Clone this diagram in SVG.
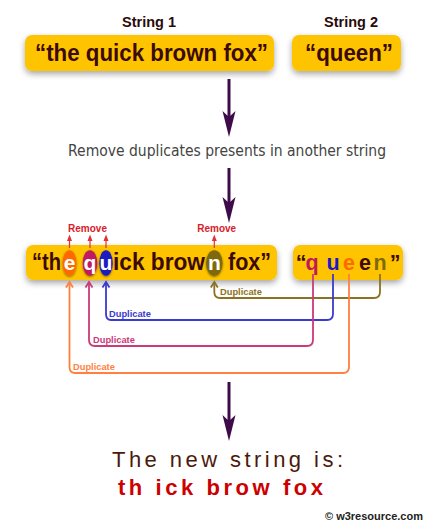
<svg xmlns="http://www.w3.org/2000/svg" width="426" height="528" viewBox="0 0 426 528">
<defs>
<filter id="sh" x="-10%" y="-30%" width="120%" height="180%">
<feDropShadow dx="0" dy="3" stdDeviation="3" flood-color="#000" flood-opacity="0.35"/>
</filter>
<filter id="sh2" x="-40%" y="-30%" width="180%" height="160%">
<feDropShadow dx="0" dy="1" stdDeviation="1.2" flood-color="#000" flood-opacity="0.5"/>
</filter>
</defs>
<style>
.box{fill:#FFC400;}
.big{font-family:"Liberation Sans",Arial,sans-serif;font-weight:bold;font-size:23px;fill:#3B0A00;}
.q{font-family:"Liberation Sans",Arial,sans-serif;font-weight:bold;font-size:21.5px;fill:#3B0A00;text-anchor:middle;}
.hl{font-family:"Liberation Sans",Arial,sans-serif;font-weight:bold;font-size:21px;fill:#fff;text-anchor:middle;}
.lbl{font-family:"Liberation Sans",Arial,sans-serif;font-weight:bold;font-size:14.5px;fill:#2A0A0A;text-anchor:middle;}
.rm{font-family:"Liberation Sans",Arial,sans-serif;font-weight:bold;font-size:10px;fill:#D8202A;text-anchor:middle;}
.dup{font-family:"Liberation Sans",Arial,sans-serif;font-weight:bold;font-size:9.3px;}
.main{stroke:#3D0B4A;stroke-width:3;fill:none;}
.head{fill:#3D0B4A;}
.red{stroke:#E0303A;stroke-width:1.2;fill:none;}
.redh{fill:#E0303A;}
.c{fill:none;stroke-width:1.8;}
.ol{stroke:#8A7222;}
.bl{stroke:#3A3AD0;}
.mg{stroke:#CC3A7A;}
.or{stroke:#FF8040;}
</style>

<g id="string1-label"><text class="lbl" x="149" y="27">String 1</text></g>
<g id="string2-label"><text class="lbl" x="351" y="27">String 2</text></g>

<g id="string1">
<rect class="box" x="25" y="35" width="249" height="36" rx="7" filter="url(#sh)"/>
<text class="big" x="35" y="61" textLength="233" lengthAdjust="spacingAndGlyphs">“the quick brown fox”</text>
</g>
<g id="string2">
<rect class="box" x="292" y="35" width="109" height="36" rx="7" filter="url(#sh)"/>
<text class="big" x="305" y="61" textLength="88" lengthAdjust="spacingAndGlyphs">“queen”</text>
</g>

<g id="step">
<text x="68" y="156" font-family="DejaVu Sans,Verdana,sans-serif" font-size="15.5" fill="#444" textLength="318" lengthAdjust="spacingAndGlyphs">Remove duplicates presents in another string</text>
</g>

<g id="string1-marked">
<rect class="box" x="26" y="245" width="251" height="35" rx="7" filter="url(#sh)"/>
<text class="big" x="32" y="270" textLength="29" lengthAdjust="spacingAndGlyphs">“th</text>
<ellipse cx="69.5" cy="263" rx="7" ry="12.7" fill="#FF6A00" filter="url(#sh2)"/>
<text class="hl" x="69.5" y="270">e</text>
<ellipse cx="90" cy="263" rx="7.3" ry="12.7" fill="#BE1A5E" filter="url(#sh2)"/>
<text class="hl" x="90" y="270">q</text>
<ellipse cx="106" cy="263" rx="6.7" ry="12.7" fill="#1A1AC0" filter="url(#sh2)"/>
<text class="hl" x="106" y="270">u</text>
<text class="big" x="113" y="270" textLength="92" lengthAdjust="spacingAndGlyphs">ick brow</text>
<ellipse cx="214.3" cy="263" rx="8.3" ry="12.7" fill="#7D6A0A" filter="url(#sh2)"/>
<text class="hl" x="214.3" y="270">n</text>
<text class="big" x="228" y="270" textLength="43" lengthAdjust="spacingAndGlyphs">fox”</text>
</g>

<g id="string2-marked">
<rect class="box" x="293" y="245" width="110" height="35" rx="7" filter="url(#sh)"/>
<text class="q" x="301" y="270">“</text>
<text class="q" x="312" y="270" style="fill:#C0185A">q</text>
<text class="q" x="333" y="270" style="fill:#1A1AC8">u</text>
<text class="q" x="349" y="270" style="fill:#FF6A00">e</text>
<text class="q" x="365" y="270">e</text>
<text class="q" x="380" y="270" style="fill:#7D6A0A">n</text>
<text class="q" x="395" y="270">”</text>
</g>

<g id="remove-labels">
<text class="rm" x="87.5" y="232">Remove</text>
<text class="rm" x="216.7" y="232">Remove</text>
</g>

<g id="duplicate-labels">
<text class="dup" x="220" y="294.5" fill="#8A7222">Duplicate</text>
<text class="dup" x="109" y="317" fill="#3A3AD0">Duplicate</text>
<text class="dup" x="93" y="342.5" fill="#CC3A7A">Duplicate</text>
<text class="dup" x="73" y="370" fill="#FF8040">Duplicate</text>
</g>

<g id="result">
<text x="112" y="467" font-family="Liberation Sans,Arial,sans-serif" font-size="22" fill="#4A1A0A" textLength="231" lengthAdjust="spacing">The new string is:</text>
<text x="118" y="495" font-family="Liberation Sans,Arial,sans-serif" font-weight="bold" font-size="22" fill="#CC0000" textLength="205" lengthAdjust="spacing">th ick brow fox</text>
</g>

<g id="credit">
<text x="325" y="520" font-family="Liberation Sans,Arial,sans-serif" font-weight="bold" font-size="11" fill="#222">© w3resource.com</text>
</g>

<g id="connectors">
<line class="main" x1="229" y1="79" x2="229" y2="118"/>
<path class="head" d="M229,137 L222.5,111 L229,117 L235.5,111 Z"/>
<line class="main" x1="229" y1="168" x2="229" y2="204"/>
<path class="head" d="M229,223 L222.5,197 L229,203 L235.5,197 Z"/>
<line class="main" x1="229" y1="382" x2="229" y2="421"/>
<path class="head" d="M229,441 L222.5,415 L229,421 L235.5,415 Z"/>

<line class="red" x1="69.5" y1="248" x2="69.5" y2="239"/>
<path class="redh" d="M69.5,234.5 L67,241 L72,241 Z"/>
<line class="red" x1="90" y1="248" x2="90" y2="239"/>
<path class="redh" d="M90,234.5 L87.5,241 L92.5,241 Z"/>
<line class="red" x1="106" y1="248" x2="106" y2="239"/>
<path class="redh" d="M106,234.5 L103.5,241 L108.5,241 Z"/>
<line class="red" x1="214.3" y1="248" x2="214.3" y2="239"/>
<path class="redh" d="M214.3,234.5 L211.8,241 L216.8,241 Z"/>

<path class="c ol" d="M380,274 V292 Q380,298 374,298 H220 Q214.3,298 214.3,292 V282"/>
<path class="c ol" d="M210.8,287.5 L214.3,282 L217.8,287.5"/>
<path class="c bl" d="M333,274 V314 Q333,320 327,320 H111 Q106,320 106,314 V282"/>
<path class="c bl" d="M102.5,287.5 L106,282 L109.5,287.5"/>
<path class="c mg" d="M313,274 V340 Q313,346 307,346 H95 Q89,346 89,340 V282"/>
<path class="c mg" d="M85.5,287.5 L89,282 L92.5,287.5"/>
<path class="c or" d="M349,274 V367 Q349,373 343,373 H75 Q69.5,373 69.5,367 V282"/>
<path class="c or" d="M66,287.5 L69.5,282 L73,287.5"/>
</g>
</svg>
